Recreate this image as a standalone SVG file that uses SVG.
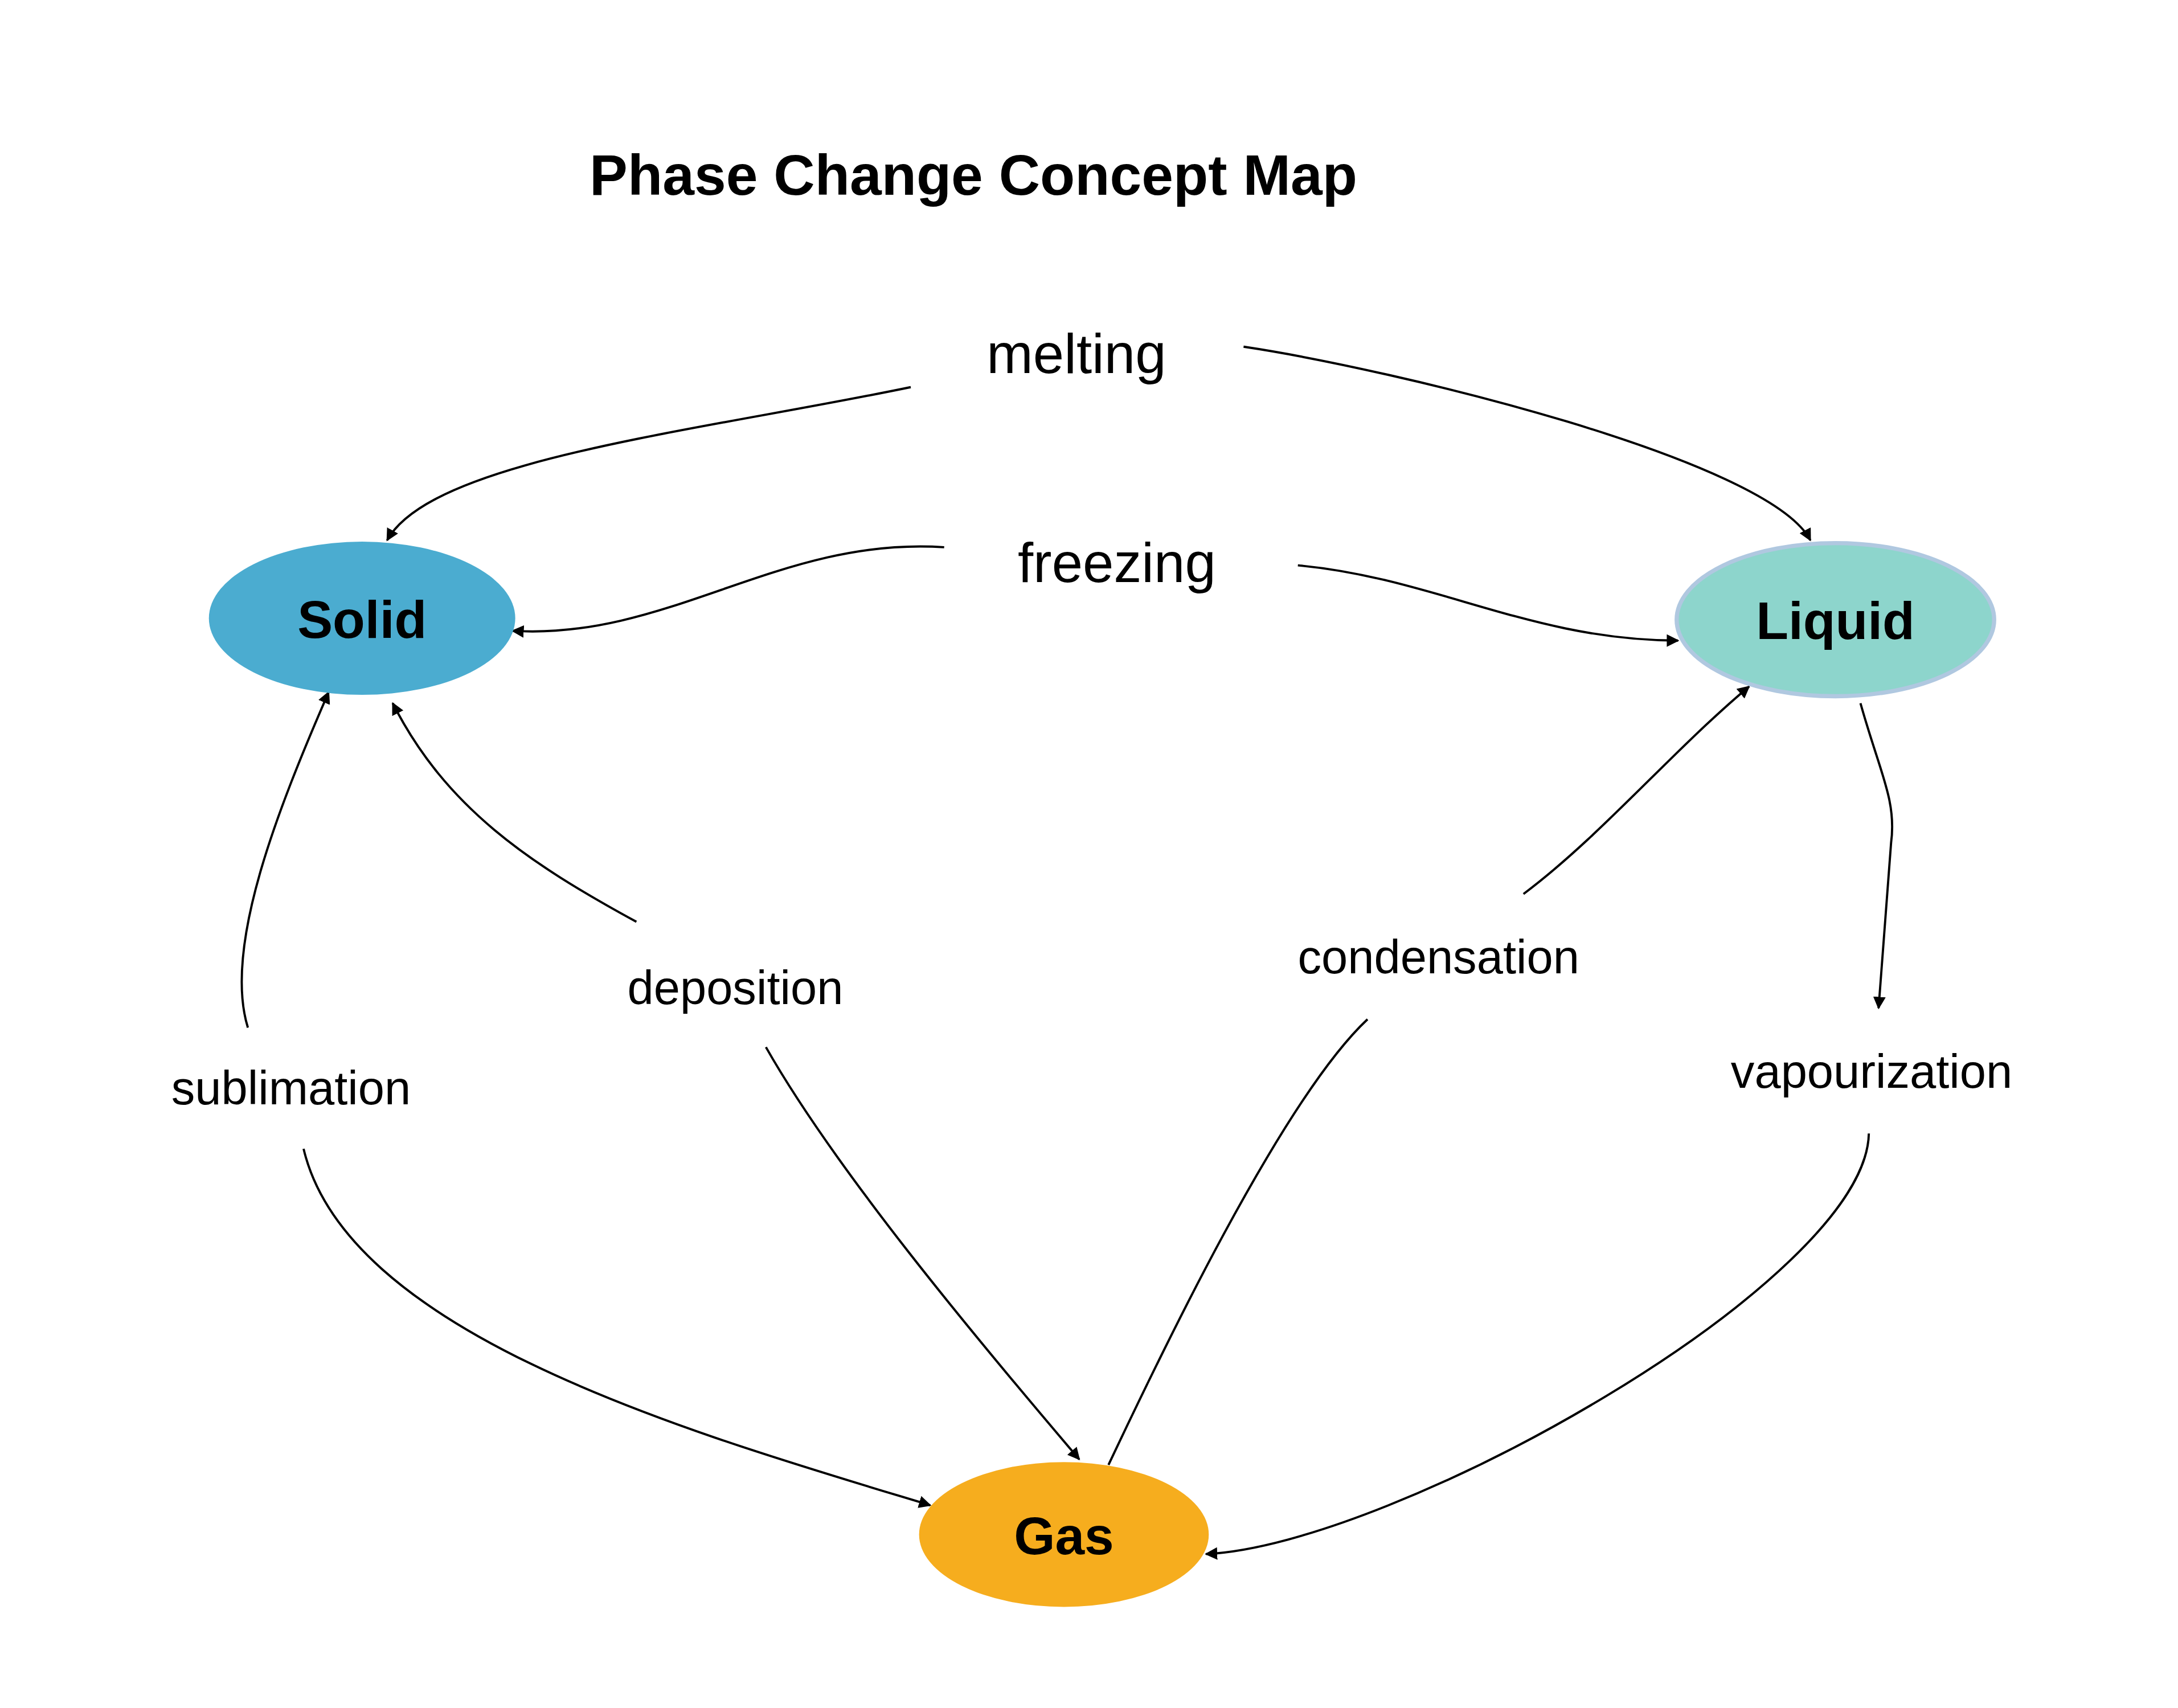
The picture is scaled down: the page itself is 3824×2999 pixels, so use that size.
<svg xmlns="http://www.w3.org/2000/svg" width="3824" height="2999" viewBox="0 0 3824 2999">
<style>
.e{fill:none;stroke:#000;stroke-width:1.6}
.n{font-family:"Liberation Sans",Arial,sans-serif;font-weight:bold;font-size:38px;text-anchor:middle}
.l{font-family:"Liberation Sans",Arial,sans-serif;text-anchor:middle}
</style>
<defs><marker id="a" viewBox="0 0 10 10" refX="9" refY="5" markerWidth="9" markerHeight="9" markerUnits="userSpaceOnUse" orient="auto"><path d="M0,0L10,5L0,10z" fill="#000"/></marker></defs>
<rect width="3824" height="2999" fill="#fff"/>
<g transform="scale(2.445)">
<text x="699" y="140" class="l" style="font-weight:bold;font-size:41px">Phase Change Concept Map</text>
<g id="connectors">
<path class="e" marker-end="url(#a)" d="M654,278 C500,310 310,330 278,388"/>
<path class="e" marker-end="url(#a)" d="M893,249 C1000,265 1270,330 1300,388"/>
<path class="e" marker-end="url(#a)" d="M678,393 C560,385 480,460 368,453"/>
<path class="e" marker-end="url(#a)" d="M932,406 C1030,415 1100,460 1205,460"/>
<path class="e" marker-end="url(#a)" d="M457,662 C380,620 320,580 282,505"/>
<path class="e" marker-end="url(#a)" d="M550,752 C600,840 700,960 775,1048"/>
<path class="e" marker-end="url(#a)" d="M1094,642 C1150,600 1200,540 1256,493"/>
<path class="e" d="M982,732 C920,790 830,980 796,1052"/>
<path class="e" marker-end="url(#a)" d="M178,738 C160,680 200,580 236,497"/>
<path class="e" marker-end="url(#a)" d="M218,825 C250,960 500,1030 668,1081"/>
<path class="e" marker-end="url(#a)" d="M1336,505 C1350,555 1362,575 1358,605 L1349,724"/>
<path class="e" marker-end="url(#a)" d="M1342,814 C1340,920 1000,1110 866,1116"/>
</g>
<g id="solid"><ellipse cx="260" cy="444" rx="110" ry="55" fill="#4bacd0"/><text x="260" y="458" class="n">Solid</text></g>
<g id="liquid"><ellipse cx="1318" cy="445" rx="114" ry="55" fill="#8dd5cc" stroke="#b0c8e0" stroke-width="3"/><text x="1318" y="459" class="n">Liquid</text></g>
<g id="gas"><ellipse cx="764" cy="1102" rx="104" ry="52" fill="#f6ad1e"/><text x="764" y="1116" class="n">Gas</text></g>
<g id="melting"><text x="773" y="268" class="l" font-size="40">melting</text></g>
<g id="freezing"><text x="802" y="418" class="l" font-size="40">freezing</text></g>
<g id="deposition"><text x="528" y="721" class="l" font-size="34">deposition</text></g>
<g id="condensation"><text x="1033" y="699" class="l" font-size="34">condensation</text></g>
<g id="sublimation"><text x="209" y="793" class="l" font-size="34">sublimation</text></g>
<g id="vapourization"><text x="1344" y="781" class="l" font-size="34">vapourization</text></g>
</g>
</svg>
